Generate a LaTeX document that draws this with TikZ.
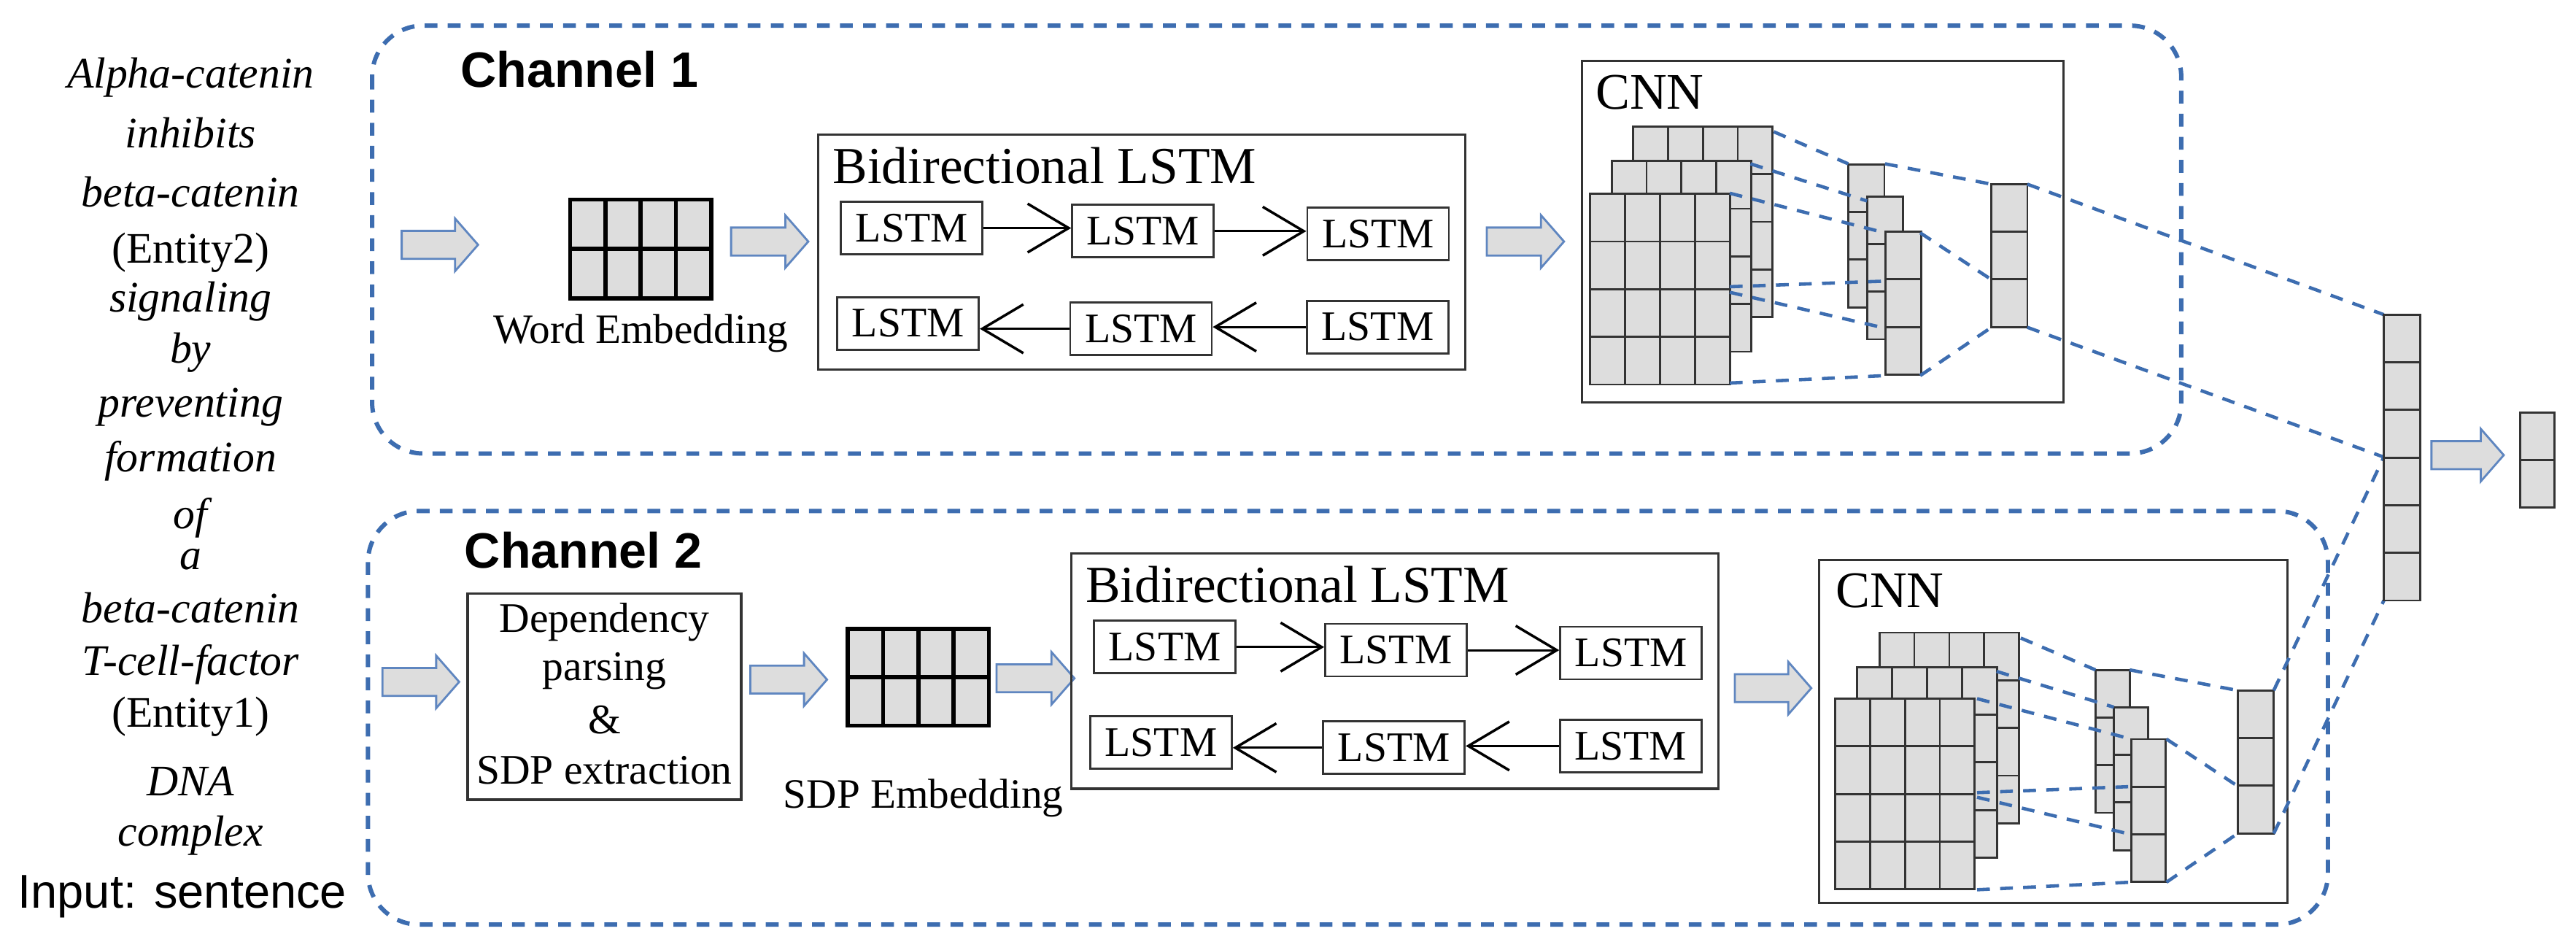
\documentclass[tikz,border=0pt]{standalone}
\usepackage{fontspec}
\setmainfont{Liberation Serif}
\newfontfamily\sansf{Liberation Sans}
\usetikzlibrary{arrows.meta}
\definecolor{dblue}{HTML}{3D6DB0}
\definecolor{ablue}{HTML}{5F86C0}
\definecolor{cellg}{HTML}{DDDDDD}
\tikzset{
  chan/.style={draw=dblue,line width=1.7pt,dash pattern=on 5pt off 4pt,rounded corners=0.7cm},
  conn/.style={draw=dblue,line width=1.3pt,dash pattern=on 5pt off 4pt},
  barrow/.style={draw=ablue,fill=cellg,line width=0.8pt},
  cellline/.style={draw=black!80,line width=0.8pt},
  thickcell/.style={draw=black,line width=1.6pt},
  lstm/.style={draw=black!80,line width=0.8pt,minimum width=1.94cm,minimum height=0.72cm,inner sep=0pt,font=\fontsize{16.4}{18}\selectfont},
  lstmarr/.style={line width=0.9pt,-{Straight Barb[length=16pt,width=19pt,line width=1pt]}},
  bigbox/.style={draw=black!80,line width=0.9pt},
  itl/.style={anchor=base,font=\fontsize{17}{19}\selectfont\itshape},
  upl/.style={anchor=base,font=\fontsize{17}{19}\selectfont},
}
\newcommand\blockarrow[3]{%
  \draw[barrow] (#1,#3-8.5) -- (#2-14,#3-8.5) -- (#2-14,#3-16) -- (#2,#3) -- (#2-14,#3+16) -- (#2-14,#3+8.5) -- (#1,#3+8.5) -- cycle;}
% x y w h ncols nrows style
\newcommand\cgrid[7]{%
  \fill[cellg] (#1,#2) rectangle ++(#3,#4);
  \ifnum#5>1 \foreach \i in {2,...,#5}{\draw[#7] ({#1+(\i-1)*#3/#5},#2) -- ++(0,#4);}\fi
  \ifnum#6>1 \foreach \j in {2,...,#6}{\draw[#7] (#1,{#2+(\j-1)*#4/#6}) -- ++(#3,0);}\fi
  \draw[#7] (#1,#2) rectangle ++(#3,#4);}
\newcommand\fmap[2]{\cgrid{#1}{#2}{85}{116}{4}{4}{cellline}}
\begin{document}
\begin{tikzpicture}[x=0.02252cm,y=-0.02252cm]
\useasboundingbox (0,0) rectangle (1568,578);
% left sentence
\node[itl] (w1) at (116,53.4) {Alpha-catenin};
\node[itl] (w2) at (116,90) {inhibits};
\node[itl] (w3) at (116,126) {beta-catenin};
\node[upl] (w4) at (116,160) {(Entity2)};
\node[itl] (w5) at (116,190) {signaling};
\node[itl] (w6) at (116,221) {by};
\node[itl] (w7) at (116,254) {preventing};
\node[itl] (w8) at (116,287) {formation};
\node[itl] (w9) at (116,321.8) {of};
\node[itl] (w10) at (116,346.7) {a};
\node[itl] (w11) at (116,379) {beta-catenin};
\node[itl] (w12) at (116,411) {T-cell-factor};
\node[upl] (w13) at (116,442.7) {(Entity1)};
\node[itl] (w14) at (116,484.3) {DNA};
\node[itl] (w15) at (116,514.7) {complex};
\node[anchor=base west,inner sep=0pt,font=\sansf\fontsize{18.5}{20}\selectfont] (inp) at (10.6,552.6) {Input: sentence};
% channel boxes
\draw[chan] (226.5,15.6) rectangle (1327.7,276);
\draw[chan] (224,311) rectangle (1417,562.7);
\node[anchor=base west,inner sep=0pt,font=\sansf\bfseries\fontsize{19.4}{21}\selectfont] (c1) at (280,53) {Channel 1};
\node[anchor=base west,inner sep=0pt,font=\sansf\bfseries\fontsize{19.4}{21}\selectfont] (c2) at (282.5,345.8) {Channel 2};
% ===== Channel 1 =====
\blockarrow{244.5}{291}{149}
\cgrid{347}{121.5}{86}{60}{4}{2}{thickcell}
\node[anchor=base,font=\fontsize{16.3}{18}\selectfont] (we) at (390,209) {Word Embedding};
\blockarrow{445}{492}{147}
\draw[bigbox] (498,82) rectangle (892,225);
\node[anchor=base west,inner sep=0pt,font=\fontsize{20.3}{22}\selectfont] (bl1) at (506.6,111.6) {Bidirectional LSTM};
\node[lstm] (a1) at (555,138.8) {LSTM};
\node[lstm] (a2) at (695.7,140.7) {LSTM};
\node[lstm] (a3) at (838.8,142.4) {LSTM};
\node[lstm] (b1) at (552.7,196.8) {LSTM};
\node[lstm] (b2) at (694.5,200.1) {LSTM};
\node[lstm] (b3) at (838.6,199) {LSTM};
\draw[lstmarr] (a1.east) -- (a2.west |- a1.east);
\draw[lstmarr] (a2.east) -- (a3.west |- a2.east);
\draw[lstmarr] (b2.west) -- (b1.east |- b2.west);
\draw[lstmarr] (b3.west) -- (b2.east |- b3.west);
\blockarrow{905}{952}{147}
\draw[bigbox] (963,37) rectangle (1256,245);
\node[anchor=base west,inner sep=0pt,font=\fontsize{20}{22}\selectfont] (cnn1) at (971,66.6) {CNN};
\fmap{994}{77}
\fmap{981}{98}
\fmap{968}{118}
\cgrid{1125}{100}{22}{87}{1}{3}{cellline}
\cgrid{1136.5}{119.5}{22}{87}{1}{3}{cellline}
\cgrid{1147.5}{141}{22}{87}{1}{3}{cellline}
\cgrid{1212}{112}{22}{87}{1}{3}{cellline}
\draw[conn] (1079.7,80.2) -- (1125,99.7);
\draw[conn] (1147.4,99.7) -- (1212.2,112.1);
\draw[conn] (1065.5,99.7) -- (1136.4,122.3);
\draw[conn] (1052.9,117.6) -- (1147.4,141.7);
\draw[conn] (1168.8,141.7) -- (1212.2,170.2);
\draw[conn] (1052.9,174.5) -- (1147.4,171.1);
\draw[conn] (1052.9,177.9) -- (1147.4,199.7);
\draw[conn] (1052.9,233.1) -- (1147.4,228.6);
\draw[conn] (1168.8,228.6) -- (1212.2,199.2);
% ===== Channel 2 =====
\blockarrow{232.8}{279.5}{415}
\node[bigbox,minimum width=3.75cm,minimum height=2.83cm] (dep) at (367.9,423.9) {};
\node[anchor=base,font=\fontsize{16.4}{18}\selectfont] (d1) at (367.9,384.6) {Dependency};
\node[anchor=base,font=\fontsize{16.4}{18}\selectfont] (d2) at (367.9,414) {parsing};
\node[anchor=base,font=\fontsize{16.4}{18}\selectfont] (d3) at (367.9,446.4) {\&};
\node[anchor=base,font=\fontsize{16.4}{18}\selectfont] (d4) at (367.9,477) {SDP extraction};
\blockarrow{456.7}{503.4}{413.6}
\cgrid{516}{382.7}{86}{59}{4}{2}{thickcell}
\node[anchor=base,font=\fontsize{16.3}{18}\selectfont] (se) at (562,492) {SDP Embedding};
\blockarrow{606.6}{654}{412.8}
\draw[bigbox] (652,337) rectangle (1046,480);
\node[anchor=base west,inner sep=0pt,font=\fontsize{20.3}{22}\selectfont] (bl2) at (660.6,366.6) {Bidirectional LSTM};
\node[lstm] (p1) at (709,393.8) {LSTM};
\node[lstm] (p2) at (849.7,395.7) {LSTM};
\node[lstm] (p3) at (992.8,397.4) {LSTM};
\node[lstm] (q1) at (706.7,451.8) {LSTM};
\node[lstm] (q2) at (848.5,455.1) {LSTM};
\node[lstm] (q3) at (992.6,454) {LSTM};
\draw[lstmarr] (p1.east) -- (p2.west |- p1.east);
\draw[lstmarr] (p2.east) -- (p3.west |- p2.east);
\draw[lstmarr] (q2.west) -- (q1.east |- q2.west);
\draw[lstmarr] (q3.west) -- (q2.east |- q3.west);
\blockarrow{1056}{1102.5}{418.8}
\draw[bigbox] (1107.3,340.8) rectangle (1392.4,549.5);
\node[anchor=base west,inner sep=0pt,font=\fontsize{20}{22}\selectfont] (cnn2) at (1117,369.8) {CNN};
\fmap{1144}{385}
\fmap{1130.5}{406}
\fmap{1117}{425.2}
\cgrid{1275.5}{407.7}{21}{87}{1}{3}{cellline}
\cgrid{1286.7}{430.4}{21}{87}{1}{3}{cellline}
\cgrid{1297.3}{449.8}{21}{87}{1}{3}{cellline}
\cgrid{1362}{420.2}{22}{87}{1}{3}{cellline}
\draw[conn] (1230,388.3) -- (1275.5,407.7);
\draw[conn] (1296.3,407.7) -- (1362,420.2);
\draw[conn] (1215.3,408.6) -- (1286.7,430.4);
\draw[conn] (1203.4,425.2) -- (1297.3,449.8);
\draw[conn] (1318.7,449.8) -- (1362,478.4);
\draw[conn] (1203.4,482.4) -- (1297.3,478.7);
\draw[conn] (1203.4,485.2) -- (1297.3,507.9);
\draw[conn] (1203.4,541.5) -- (1297.3,536.9);
\draw[conn] (1318.7,536.9) -- (1362,507.3);
% ===== merge =====
\draw[conn] (1234,112.1) -- (1451,191.5);
\draw[conn] (1234,199.2) -- (1451,278.2);
\draw[conn] (1384,420.2) -- (1451,278.2);
\draw[conn] (1384,507.3) -- (1451,365.5);
\cgrid{1451}{191.5}{22}{174}{1}{6}{cellline}
\blockarrow{1480}{1524}{277}
\cgrid{1534}{251}{21}{58}{1}{2}{cellline}
\end{tikzpicture}
\end{document}
